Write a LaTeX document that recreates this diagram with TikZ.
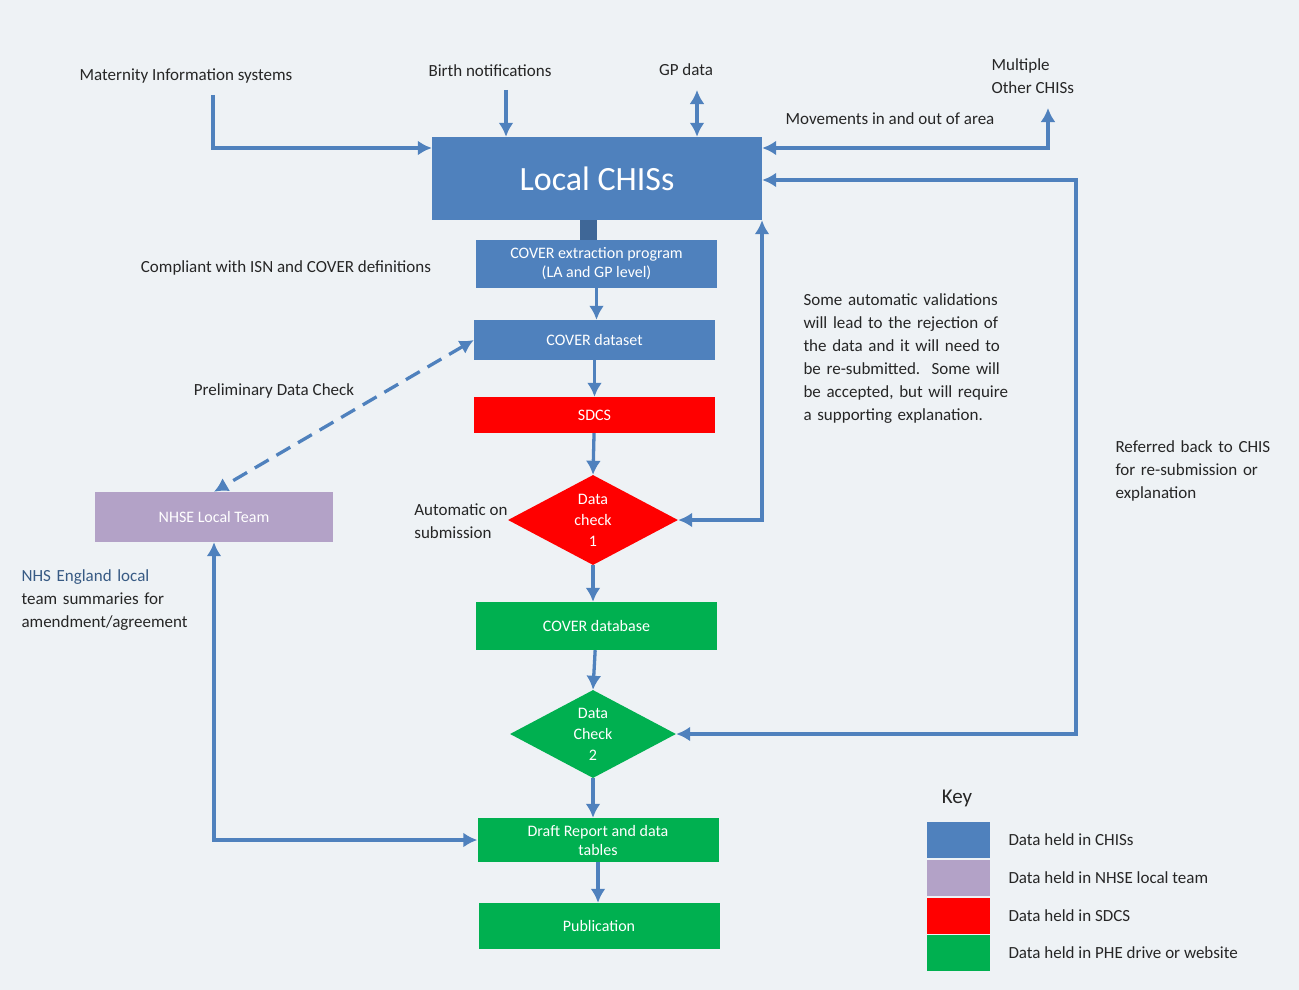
\documentclass[tikz,border=0pt]{standalone}
\usepackage{fontspec}
\setmainfont{Carlito}
\usetikzlibrary{shapes.geometric,arrows.meta}
\definecolor{bg}{HTML}{EEF2F5}
\definecolor{cblue}{HTML}{4F81BD}
\definecolor{cred}{HTML}{FF0000}
\definecolor{cgreen}{HTML}{00B050}
\definecolor{clav}{HTML}{B3A2C7}
\definecolor{ctext}{HTML}{262626}
\begin{document}
\hyphenpenalty=10000 \exhyphenpenalty=10000
\begin{tikzpicture}[x=1pt,y=-1pt,
  box/.style={draw=none,minimum width=241pt,align=center,text=white,font=\fontsize{16}{19}\selectfont},
  dia/.style={diamond,draw=none,aspect=1.85,minimum width=170pt,minimum height=90pt,inner sep=0pt,align=center,text=white,font=\fontsize{16}{21}\selectfont},
  arr/.style={draw=cblue,line width=3.3pt,-{Latex[length=14pt,width=15pt]}},
  darr/.style={draw=cblue,line width=3.3pt,{Latex[length=14pt,width=15pt]}-{Latex[length=14pt,width=15pt]}},
  lab/.style={text=ctext,font=\fontsize{17}{23}\selectfont}]
\fill[bg] (0,0) rectangle (1299,990);
\useasboundingbox (0,0) rectangle (1299,990);
\node[fill=cblue,minimum width=330pt,minimum height=83pt,text=white,font=\fontsize{34}{36}\selectfont] (chis) at (597,178.5) {Local CHISs};
\fill[cblue!80!black] (580,220) rectangle (597,240);
\node[box,fill=cblue,minimum height=48pt] (ext) at (596.5,264) {COVER extraction program\\(LA and GP level)};
\node[box,fill=cblue,minimum height=40pt] (ds) at (594.5,340) {COVER dataset};
\node[box,fill=cred,minimum height=36pt] (sdcs) at (594.5,415) {SDCS};
\node[dia,fill=cred] (dc1) at (593,520) {Data\\check\\1};
\node[box,fill=cgreen,minimum height=48pt] (db) at (596.5,626) {COVER database};
\node[dia,fill=cgreen,minimum width=166pt,minimum height=88pt] (dc2) at (593,734) {Data\\Check\\2};
\node[box,fill=cgreen,minimum height=44pt] (dr) at (598,840) {Draft Report and data\\tables};
\node[box,fill=cgreen,minimum height=46pt] (pub) at (599,926) {Publication};
\node[box,fill=clav,minimum width=238pt,minimum height=50pt] (nhse) at (214,517) {NHSE Local Team};

\node[lab] (mat) at (186,76) {Maternity Information systems};
\node[lab] (birth) at (490,71) {Birth notifications};
\node[lab] (gp) at (686,70) {GP data};
\node[lab,align=left,anchor=west] (mult) at (988,76) {Multiple\\Other CHISs};
\node[lab] (mov) at (890,119) {Movements in and out of area};
\node[lab] (comp) at (286,268) {Compliant with ISN and COVER definitions};
\node[lab] (pre) at (274,391) {Preliminary Data Check};
\node[lab,align=left,anchor=north west,text width=210pt] (some) at (800,290) {Some automatic validations will lead to the rejection of the data and it will need to be re-submitted.\ \ Some will be accepted, but will require a supporting explanation.};
\node[lab,align=left,anchor=north west,text width=180pt] (ref) at (1112,437) {Referred back to CHIS for re-submission or explanation};
\node[lab,align=left] (auto) at (461,521) {Automatic on\\submission};
\node[lab,align=left,anchor=north west,text width=195pt] (eng) at (18,566) {\textcolor{cblue!70!black}{NHS England local} team summaries for amendment/agreement};

\coordinate (m1) at (213,95);
\coordinate (b1) at (506,90);
\coordinate (g1) at (697,90);
\coordinate (o1) at (1048,108);
\coordinate (r1) at (1076,734);
\coordinate (v1) at (762,520);
\draw[arr] (m1) |- (chis.west |- 0,148);
\draw[arr] (b1) -- (b1 |- chis.north);
\draw[darr] (g1) -- (g1 |- chis.north);
\draw[darr] (chis.east |- 0,148) -| (o1);
\draw[darr] (dc2.east) -- (r1) |- (chis.east |- 0,180);
\draw[darr] (dc1.east) -- (v1) -- (v1 |- chis.south);
\draw[arr] (ext) -- (ext |- ds.north);
\draw[arr] (ds) -- (ds |- sdcs.north);
\draw[arr] (sdcs) -- (dc1.north);
\draw[arr] (dc1.south) -- (dc1.south |- db.north);
\draw[arr] (db) -- (dc2.north);
\draw[arr] (dc2.south) -- (dc2.south |- dr.north);
\draw[arr] (dr) -- (dr |- pub.north);
\draw[darr,dashed,dash pattern=on 16pt off 9pt] (ds.west) -- (nhse.north);
\draw[darr] (nhse.south) |- (dr.west);

\node[lab,font=\fontsize{21}{23}\selectfont] (key) at (957,798) {Key};
\foreach \c/\y/\t in {cblue/840/Data held in CHISs, clav/878/Data held in NHSE local team, cred/916/Data held in SDCS, cgreen/953/Data held in PHE drive or website}{
  \fill[\c] (927,\y-18) rectangle (990,\y+18);
  \node[lab,anchor=west] at (1005,\y) {\t};
}
\end{tikzpicture}
\end{document}
